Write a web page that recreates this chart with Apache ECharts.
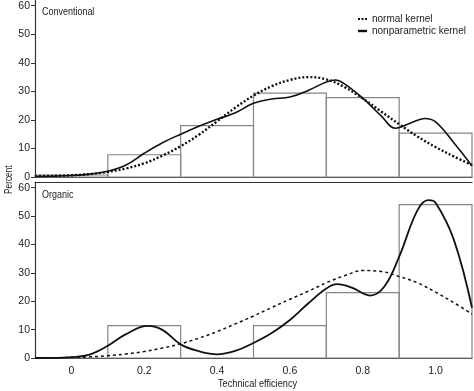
<!DOCTYPE html>
<html>
<head>
<meta charset="utf-8">
<script src="https://cdn.jsdelivr.net/npm/echarts@6/dist/echarts.min.js"></script>
<style>html,body{margin:0;padding:0;background:#fff}#c{width:474px;height:391px}</style>
</head>
<body>
<div id="c"></div>
<script>
// Histogram bins (edges) and heights (percent)
var binEdges = [-0.1, 0.1, 0.3, 0.5, 0.7, 0.9, 1.1];
var convHist = [0.7, 7.8, 18, 29.4, 27.8, 15.4];
var orgHist  = [0, 11.4, 0, 11.4, 23, 54];

// Conventional: normal kernel (dotted)
var convNormX = [-0.1,-0.05,0,0.05,0.1,0.15,0.2,0.25,0.3,0.35,0.4,0.45,0.5,0.55,0.6,0.65,0.7,0.75,0.8,0.85,0.9,0.95,1.0,1.05,1.1];
var convNormY = [0.3,0.4,0.6,1.0,1.8,3.0,4.8,7.5,10.8,14.8,19.5,24.3,28.5,31.8,34,35,34.2,31.5,27.5,23,18.5,14.2,10.5,7.2,4.2];

// Conventional: nonparametric kernel (solid)
var convNpX = [-0.1,-0.05,0,0.05,0.1,0.15,0.2,0.25,0.3,0.35,0.4,0.45,0.5,0.55,0.6,0.65,0.7,0.725,0.75,0.8,0.85,0.89,0.93,0.97,1.0,1.05,1.1];
var convNpY = [0.2,0.3,0.5,1.0,2.0,4.2,8.3,12,15,17.8,20.2,22.5,25.8,27.3,28,30.3,33.3,34,32.6,27.6,21.5,17.1,18.8,20.5,19.3,12,3.9];

// Organic: normal kernel (dotted)
var orgNormX = [-0.1,-0.05,0,0.05,0.1,0.15,0.2,0.25,0.3,0.35,0.4,0.45,0.5,0.55,0.6,0.65,0.7,0.75,0.8,0.85,0.9,0.95,1.0,1.05,1.1];
var orgNormY = [0,0.05,0.2,0.4,0.8,1.4,2.3,3.5,5,7,9.3,12,14.8,17.8,20.7,23.5,26.5,29,30.8,30.5,28.7,26.5,23.2,19.5,15.5];

// Organic: nonparametric kernel (solid)
var orgNpX = [-0.1,-0.05,0,0.05,0.1,0.15,0.21,0.25,0.3,0.35,0.4,0.45,0.5,0.55,0.6,0.65,0.7,0.73,0.77,0.82,0.86,0.9,0.95,0.98,1.0,1.05,1.1];
var orgNpY = [0,0.05,0.3,1.2,4.3,8.4,11.3,9.9,4.8,2.4,1.3,2.5,5.3,8.8,13.4,19.2,24.5,26,24.8,22,25.3,35.7,52,55.6,54.7,41.7,17.7];

var yTicks = [0,10,20,30,40,50,60];
var xTicks = [0,0.2,0.4,0.6,0.8,1.0];

var FONT = "'Liberation Sans',Arial,sans-serif";

function zip(xs, ys){ return xs.map(function(x,i){ return [x, ys[i]]; }); }
function hist(vals){ return vals.map(function(v,i){ return [binEdges[i], binEdges[i+1], v]; }); }

function renderBar(params, api){
  var p0 = api.coord([api.value(0), api.value(2)]);
  var p1 = api.coord([api.value(1), 0]);
  return {
    type: 'rect',
    shape: {x: p0[0], y: p0[1], width: p1[0]-p0[0], height: p1[1]-p0[1]},
    style: {fill: 'none', stroke: '#858585', lineWidth: 1.2}
  };
}

var chart = echarts.init(document.getElementById('c'), null, {renderer:'canvas'});

function yAxis(idx){
  return {
    type:'value', gridIndex: idx, min:0, max:62,
    axisLine:{show:true, onZero:false, lineStyle:{color:'#333', width:1.2}},
    axisTick:{show:true, length:4, customValues: yTicks, lineStyle:{color:'#333'}},
    axisLabel:{customValues: yTicks, color:'#222', fontSize:10.5, fontFamily:FONT, margin:5},
    splitLine:{show:false}
  };
}

chart.setOption({
  animation:false,
  textStyle:{fontFamily:FONT},
  grid:[
    {left:35, right:2, top:0, height:177},
    {left:35, right:2, top:182, height:176}
  ],
  legend:{
    left:353, top:9, orient:'vertical', itemGap:2, itemWidth:9, itemHeight:2.4,
    textStyle:{fontSize:10, color:'#222', fontFamily:FONT},
    data:[
      {name:'normal kernel', icon:'path://M0,0h2v2h-2z M3.5,0h2v2h-2z M7,0h2v2h-2z'},
      {name:'nonparametric kernel', icon:'rect'}
    ]
  },
  graphic:[
    {type:'text', left:42, top:6, scaleX:0.78, style:{text:'Conventional', fontSize:11.5, fill:'#222', fontFamily:FONT}},
    {type:'text', left:42, top:189, scaleX:0.78, style:{text:'Organic', fontSize:11.5, fill:'#222', fontFamily:FONT}},
    {type:'text', x:3, y:194, rotation:Math.PI/2, scaleX:0.72, style:{text:'Percent', fontSize:11.5, fill:'#222', fontFamily:FONT}},
    {type:'text', left:218, top:378, scaleX:0.8, style:{text:'Technical efficiency', fontSize:11.5, fill:'#222', fontFamily:FONT}}
  ],
  xAxis:[
    {type:'value', gridIndex:0, min:-0.1, max:1.1,
     axisLine:{show:true, onZero:false, lineStyle:{color:'#333', width:1.2}},
     axisTick:{show:false}, axisLabel:{show:false}, splitLine:{show:false}},
    {type:'value', gridIndex:1, min:-0.1, max:1.1,
     axisLine:{show:true, onZero:false, lineStyle:{color:'#333', width:1.2}},
     axisTick:{show:false},
     axisLabel:{customValues:xTicks, color:'#222', fontSize:10.5, fontFamily:FONT, margin:8,
       formatter:function(v){ return v === 0 ? '0' : v.toFixed(1); }},
     splitLine:{show:false}},
    {type:'value', gridIndex:1, min:-0.1, max:1.1, position:'top',
     axisLine:{show:true, onZero:false, lineStyle:{color:'#333', width:1.2}},
     axisTick:{show:false}, axisLabel:{show:false}, splitLine:{show:false}}
  ],
  yAxis:[yAxis(0), yAxis(1)],
  series:[
    {type:'custom', xAxisIndex:0, yAxisIndex:0, renderItem:renderBar, data:hist(convHist), encode:{x:[0,1], y:2}, z:1, silent:true},
    {type:'custom', xAxisIndex:1, yAxisIndex:1, renderItem:renderBar, data:hist(orgHist), encode:{x:[0,1], y:2}, z:1, silent:true},
    {name:'normal kernel', type:'line', xAxisIndex:0, yAxisIndex:0, data:zip(convNormX, convNormY),
     smooth:0.4, symbol:'none', lineStyle:{color:'#111', width:2.4, type:[2,2]}, itemStyle:{color:'#111'}, z:3},
    {name:'nonparametric kernel', type:'line', xAxisIndex:0, yAxisIndex:0, data:zip(convNpX, convNpY),
     smooth:0.4, symbol:'none', lineStyle:{color:'#111', width:1.6}, itemStyle:{color:'#111'}, z:3},
    {name:'normal kernel', type:'line', xAxisIndex:1, yAxisIndex:1, data:zip(orgNormX, orgNormY),
     smooth:0.4, symbol:'none', lineStyle:{color:'#111', width:1.5, type:[3,3]}, itemStyle:{color:'#111'}, z:3},
    {name:'nonparametric kernel', type:'line', xAxisIndex:1, yAxisIndex:1, data:zip(orgNpX, orgNpY),
     smooth:0.4, symbol:'none', lineStyle:{color:'#111', width:1.8}, itemStyle:{color:'#111'}, z:3}
  ]
});
</script>
</body>
</html>
